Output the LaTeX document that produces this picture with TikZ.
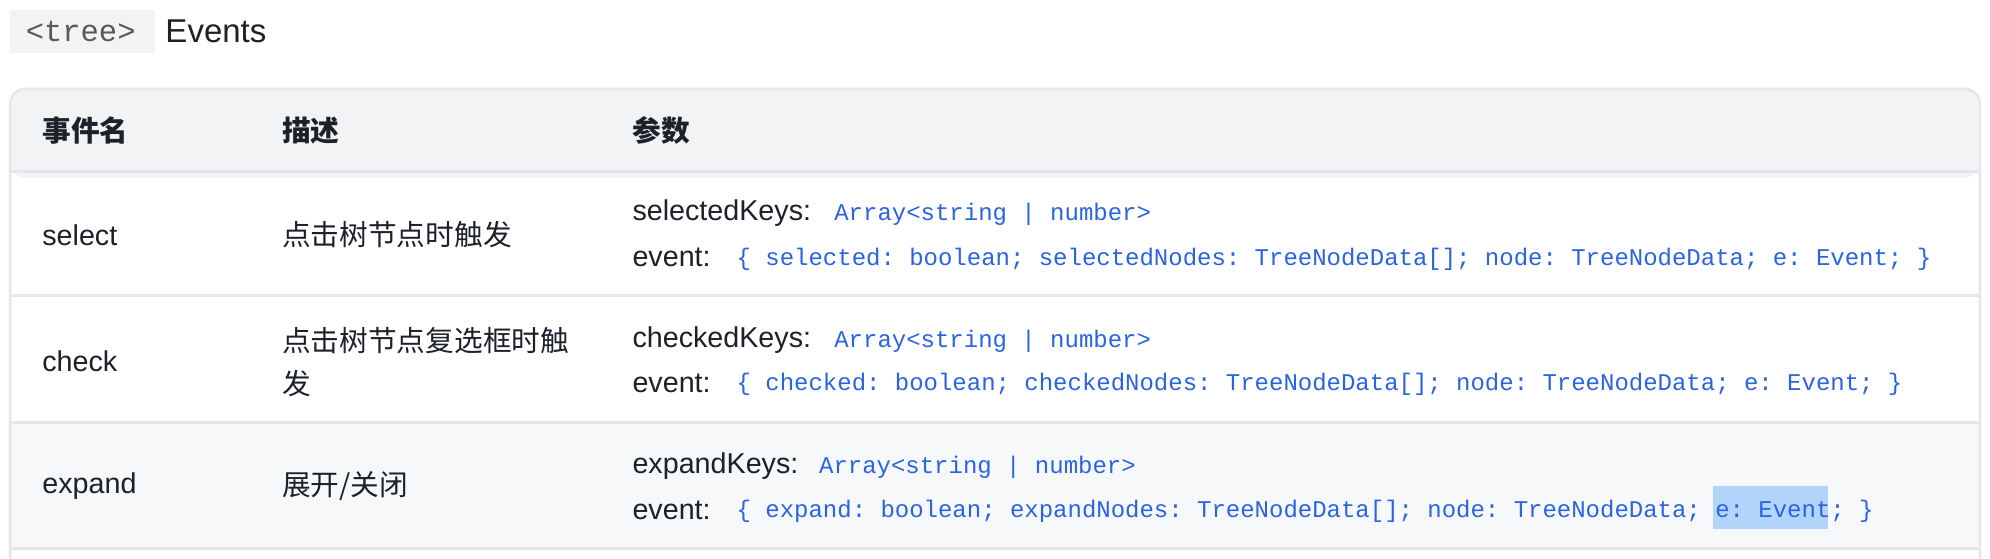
\documentclass[tikz,border=0pt]{standalone}
\usepackage{fontspec}
\setmainfont{Liberation Sans}
\setmonofont{Liberation Mono}
\newfontfamily\cjk{Noto Sans CJK SC}
\definecolor{txt}{HTML}{1D2129}
\definecolor{code}{HTML}{2B63E0}
\definecolor{bd}{HTML}{E5E6EB}
\definecolor{hd}{HTML}{F2F3F5}
\definecolor{rw}{HTML}{F7F8FA}
\definecolor{hl}{HTML}{B4D5FB}
\begin{document}
\begin{tikzpicture}[x=0.5pt,y=-0.5pt,
  lat/.style={anchor=west,inner sep=0,text=txt,font=\fontsize{11.3}{13}\selectfont},
  zh/.style={anchor=west,inner sep=0,text=txt,font=\cjk\fontsize{11.3}{13}\selectfont},
  cd/.style={anchor=west,inner sep=0,text=code,font=\ttfamily\fontsize{9.45}{11}\selectfont}]
\useasboundingbox (0,0) rectangle (1568,440);
\fill[white] (0,0) rectangle (1568,440);
% title
\fill[hd] (8,8) rectangle (122,42);
\node[anchor=west,inner sep=0,text=black!65,font=\ttfamily\fontsize{12}{14}\selectfont] (tag) at (20,25) {<tree>};
\node[lat,font=\fontsize{13}{15}\selectfont] (ttl) at (130,25) {Events};
% table
\fill[hd,rounded corners=6pt] (8,70) rectangle (1560,140);
\fill[hd] (8,120) rectangle (1560,135);
\fill[rw] (8,333) rectangle (1560,432);
\draw[bd,line width=1pt,rounded corners=6pt] (8,445) -- (8,70) -- (1560,70) -- (1560,445);
\foreach \y in {135,233,333,432} \draw[bd,line width=1pt] (8,\y) -- (1560,\y);
% header
\node[zh,font=\cjk\bfseries\fontsize{11.3}{13}\selectfont] (h1) at (33,103) {事件名};
\node[zh,font=\cjk\bfseries\fontsize{11.3}{13}\selectfont] (h2) at (222,103) {描述};
\node[zh,font=\cjk\bfseries\fontsize{11.3}{13}\selectfont] (h3) at (498,103) {参数};
% row 1
\node[lat] (r1a) at (33,185) {select};
\node[zh] (r1b) at (222,185) {点击树节点时触发};
\node[lat] (r1c) at (498,168) {selectedKeys:};
\node[cd] (r1d) at (657,169) {Array<string | number>};
\node[lat] (r1e) at (498,203) {event:};
\node[cd] (r1f) at (580,204) {\{ selected: boolean; selectedNodes: TreeNodeData[]; node: TreeNodeData; e: Event; \}};
% row 2
\node[lat] (r2a) at (33,285) {check};
\node[zh] (r2b) at (222,268) {点击树节点复选框时触};
\node[zh] (r2b2) at (222,302) {发};
\node[lat] (r2c) at (498,268) {checkedKeys:};
\node[cd] (r2d) at (657,269) {Array<string | number>};
\node[lat] (r2e) at (498,302) {event:};
\node[cd] (r2f) at (580,303) {\{ checked: boolean; checkedNodes: TreeNodeData[]; node: TreeNodeData; e: Event; \}};
% row 3
\fill[hl] (1350,383) rectangle (1440,417);
\node[lat] (r3a) at (33,383) {expand};
\node[zh] (r3b) at (222,383) {展开/关闭};
\node[lat] (r3c) at (498,367) {expandKeys:};
\node[cd] (r3d) at (645,368) {Array<string | number>};
\node[lat] (r3e) at (498,402) {event:};
\node[cd] (r3f) at (580,403) {\{ expand: boolean; expandNodes: TreeNodeData[]; node: TreeNodeData; e: Event; \}};
\end{tikzpicture}
\end{document}
